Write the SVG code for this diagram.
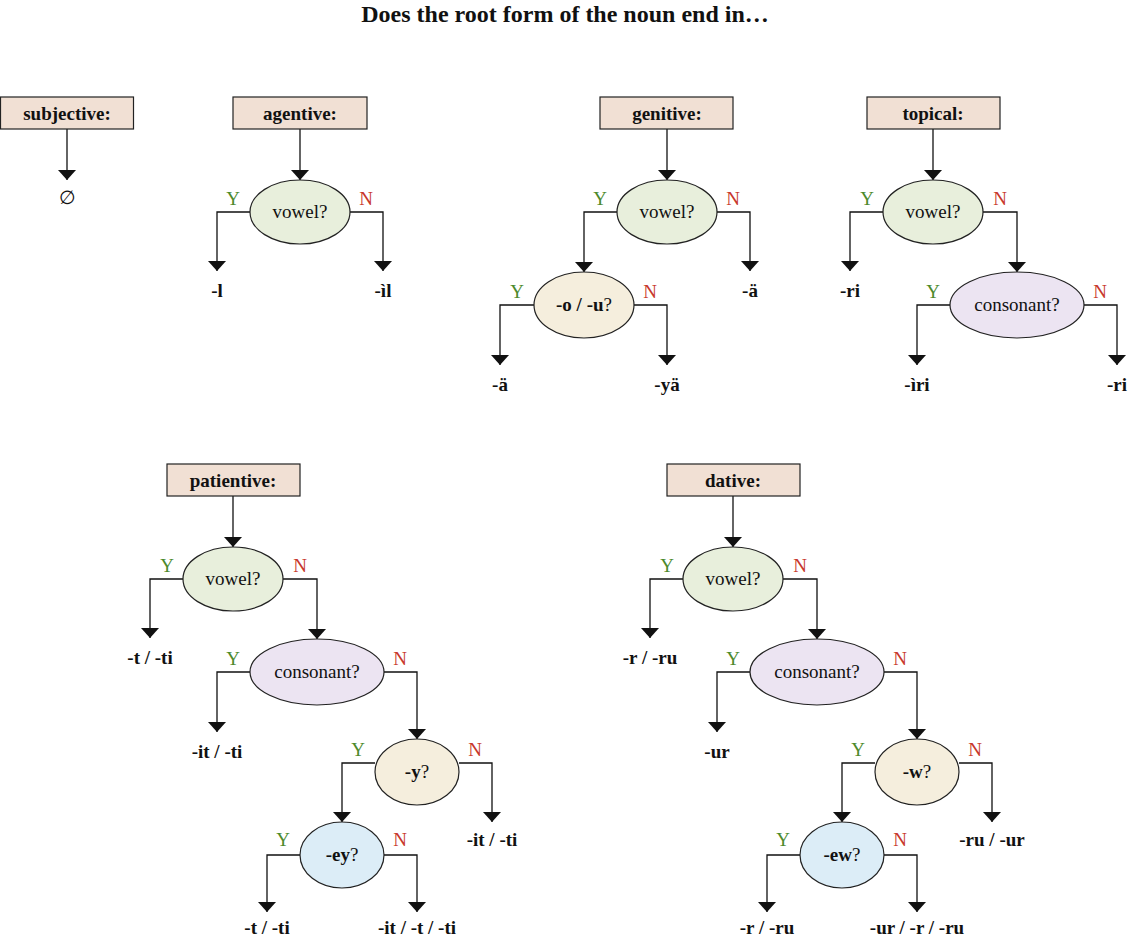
<svg xmlns="http://www.w3.org/2000/svg" width="1129" height="939" viewBox="0 0 1129 939">
<style>
text{font-family:"Liberation Serif","DejaVu Serif",serif;font-size:19px;text-anchor:middle;fill:#111}
.b{font-weight:bold}
.t{font-size:24px;font-weight:bold}
.box{fill:#f1e0d4;stroke:#222;stroke-width:1.2}
.e{stroke:#222;stroke-width:1.2}
.g{fill:#e8efdc}.p{fill:#ece4f2}.o{fill:#f5eedd}.c{fill:#dcedf7}
.y{fill:#4d8a2d}.n{fill:#c8372b}
.l{fill:none;stroke:#111;stroke-width:1.3;marker-end:url(#a)}
</style>
<defs><marker id="a" viewBox="0 0 10 18" refX="10" refY="9" markerWidth="10" markerHeight="18" markerUnits="userSpaceOnUse" orient="auto"><path d="M0,0L10,9L0,18z" fill="#111"/></marker></defs>
<text class="t" x="565" y="22">Does the root form of the noun end in…</text>
<g id="connectors">
<path class="l" d="M67,129V180"/>
<path class="l" d="M300,129V180"/><path class="l" d="M250,212H217V271"/><path class="l" d="M350,212H383V271"/>
<path class="l" d="M667,129V180"/><path class="l" d="M617,212H584V272"/><path class="l" d="M717,212H750V271"/>
<path class="l" d="M534,305H500V365"/><path class="l" d="M634,305H667V365"/>
<path class="l" d="M933,129V180"/><path class="l" d="M883,212H850V271"/><path class="l" d="M983,212H1017V272"/>
<path class="l" d="M950,305H917V365"/><path class="l" d="M1084,305H1117V365"/>
<path class="l" d="M233,496V547"/><path class="l" d="M183,579H150V638"/><path class="l" d="M283,579H317V639"/>
<path class="l" d="M250,672H217V732"/><path class="l" d="M384,672H417V739"/>
<path class="l" d="M375,763H342V822"/><path class="l" d="M459,763H492V822"/>
<path class="l" d="M300,855H267V912"/><path class="l" d="M384,855H417V912"/>
<path class="l" d="M733,496V547"/><path class="l" d="M683,579H650V638"/><path class="l" d="M783,579H817V639"/>
<path class="l" d="M750,672H717V732"/><path class="l" d="M884,672H917V739"/>
<path class="l" d="M875,763H842V822"/><path class="l" d="M959,763H992V822"/>
<path class="l" d="M800,855H767V912"/><path class="l" d="M884,855H917V912"/>
</g>
<g id="subjective"><rect class="box" x="0.5" y="97" width="133" height="32"/><text class="b" x="67" y="120">subjective:</text><text x="67" y="204">∅</text></g>
<g id="agentive"><rect class="box" x="233" y="97" width="134" height="32"/><text class="b" x="300" y="120">agentive:</text>
<ellipse class="e g" cx="300" cy="212" rx="50" ry="32"/><text x="300" y="218">vowel?</text>
<text class="y" x="233" y="205">Y</text><text class="n" x="366" y="205">N</text>
<text class="b" x="217" y="297">-l</text><text class="b" x="383" y="297">-ìl</text></g>
<g id="genitive"><rect class="box" x="600" y="97" width="133" height="32"/><text class="b" x="667" y="120">genitive:</text>
<ellipse class="e g" cx="667" cy="212" rx="50" ry="32"/><text x="667" y="218">vowel?</text>
<text class="y" x="600" y="205">Y</text><text class="n" x="733" y="205">N</text>
<text class="b" x="750" y="297">-ä</text>
<ellipse class="e o" cx="584" cy="305" rx="50" ry="33"/><text x="584" y="311"><tspan class="b">-o / -u</tspan>?</text>
<text class="y" x="517" y="298">Y</text><text class="n" x="650" y="298">N</text>
<text class="b" x="500" y="391">-ä</text><text class="b" x="667" y="391">-yä</text></g>
<g id="topical"><rect class="box" x="867" y="97" width="133" height="32"/><text class="b" x="933" y="120">topical:</text>
<ellipse class="e g" cx="933" cy="212" rx="50" ry="32"/><text x="933" y="218">vowel?</text>
<text class="y" x="867" y="205">Y</text><text class="n" x="1000" y="205">N</text>
<text class="b" x="850" y="297">-ri</text>
<ellipse class="e p" cx="1017" cy="305" rx="67" ry="33"/><text x="1017" y="311">consonant?</text>
<text class="y" x="933" y="298">Y</text><text class="n" x="1100" y="298">N</text>
<text class="b" x="917" y="391">-ìri</text><text class="b" x="1117" y="391">-ri</text></g>
<g id="patientive"><rect class="box" x="167" y="464" width="133" height="32"/><text class="b" x="233" y="487">patientive:</text>
<ellipse class="e g" cx="233" cy="579" rx="50" ry="32"/><text x="233" y="585">vowel?</text>
<text class="y" x="167" y="572">Y</text><text class="n" x="300" y="572">N</text>
<text class="b" x="150" y="664">-t / -ti</text>
<ellipse class="e p" cx="317" cy="672" rx="67" ry="33"/><text x="317" y="678">consonant?</text>
<text class="y" x="233" y="665">Y</text><text class="n" x="400" y="665">N</text>
<text class="b" x="217" y="758">-it / -ti</text>
<ellipse class="e o" cx="417" cy="772" rx="42" ry="33"/><text x="417" y="778"><tspan class="b">-y</tspan>?</text>
<text class="y" x="358" y="756">Y</text><text class="n" x="475" y="756">N</text>
<text class="b" x="492" y="846">-it / -ti</text>
<ellipse class="e c" cx="342" cy="855" rx="42" ry="33"/><text x="342" y="861"><tspan class="b">-ey</tspan>?</text>
<text class="y" x="283" y="846">Y</text><text class="n" x="400" y="846">N</text>
<text class="b" x="267" y="934">-t / -ti</text><text class="b" x="417" y="934">-it / -t / -ti</text></g>
<g id="dative"><rect class="box" x="667" y="464" width="133" height="32"/><text class="b" x="733" y="487">dative:</text>
<ellipse class="e g" cx="733" cy="579" rx="50" ry="32"/><text x="733" y="585">vowel?</text>
<text class="y" x="667" y="572">Y</text><text class="n" x="800" y="572">N</text>
<text class="b" x="650" y="664">-r / -ru</text>
<ellipse class="e p" cx="817" cy="672" rx="67" ry="33"/><text x="817" y="678">consonant?</text>
<text class="y" x="733" y="665">Y</text><text class="n" x="900" y="665">N</text>
<text class="b" x="717" y="758">-ur</text>
<ellipse class="e o" cx="917" cy="772" rx="42" ry="33"/><text x="917" y="778"><tspan class="b">-w</tspan>?</text>
<text class="y" x="858" y="756">Y</text><text class="n" x="975" y="756">N</text>
<text class="b" x="992" y="846">-ru / -ur</text>
<ellipse class="e c" cx="842" cy="855" rx="42" ry="33"/><text x="842" y="861"><tspan class="b">-ew</tspan>?</text>
<text class="y" x="783" y="846">Y</text><text class="n" x="900" y="846">N</text>
<text class="b" x="767" y="934">-r / -ru</text><text class="b" x="917" y="934">-ur / -r / -ru</text></g>
</svg>
